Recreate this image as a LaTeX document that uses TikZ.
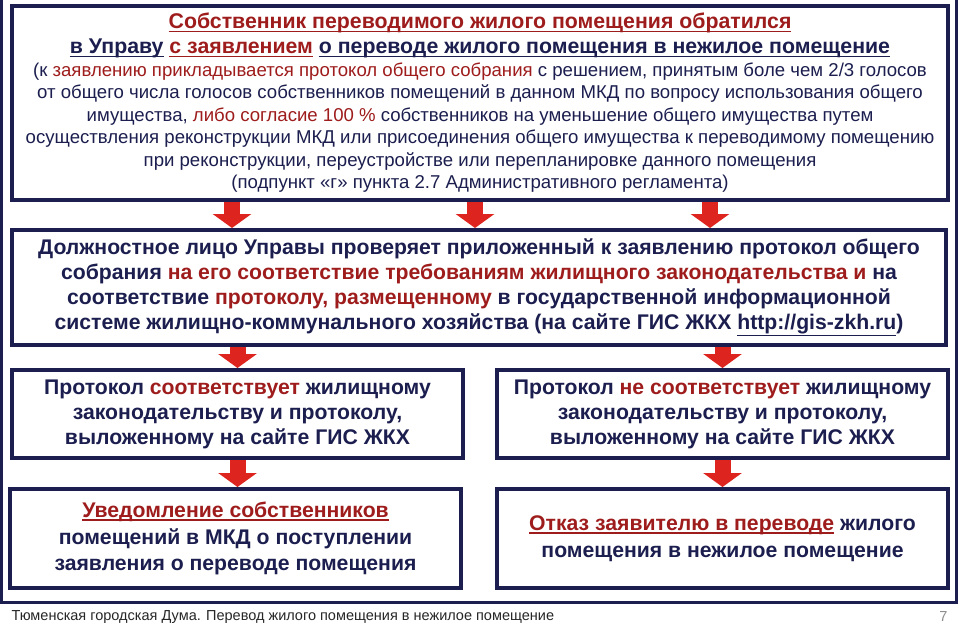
\documentclass[tikz,border=0pt]{standalone}
\usepackage{fontspec}
\setmainfont{Liberation Sans}
\usetikzlibrary{arrows.meta, calc}
\definecolor{navy}{RGB}{27,30,78}
\definecolor{darkred}{RGB}{158,28,28}
\definecolor{arrowred}{RGB}{222,36,30}
\newcommand{\rd}[1]{\textcolor{darkred}{#1}}
\newcommand{\undl}[1]{\leavevmode\setbox0\hbox{#1}\rlap{\rule[-3.5pt]{\wd0}{1.6pt}}\box0\relax}

\begin{document}
\begin{tikzpicture}[x=1pt,y=-1pt,
    box/.style={draw=navy, line width=4pt, fill=white, text=navy, align=center, inner sep=0pt},
    bigtext/.style={font=\fontsize{21.2}{25}\selectfont\bfseries},
    downarr/.style={draw=arrowred, line width=16pt, -{Triangle[width=38pt,length=14pt]}}]
  \useasboundingbox (0,0) rectangle (960,630);
  \draw [navy, line width=3pt] (1.5,-5) -- (1.5,602.5) -- (956.5,602.5) -- (956.5,-5); % slide frame

  \node [box, minimum width=936pt, minimum height=194pt, font=\fontsize{18.6}{22.5}\selectfont] (top) at (480,103)
    {{\fontsize{21.3}{25}\selectfont\bfseries\textcolor{darkred}{\undl{Собственник переводимого жилого помещения обратился}}}\\[2.5pt]
     {\fontsize{21.3}{25}\selectfont\bfseries\undl{в Управу} \textcolor{darkred}{\undl{с заявлением}} \undl{о переводе жилого помещения в нежилое помещение}}\\
     (к \rd{заявлению прикладывается протокол общего собрания} с решением, принятым боле чем 2/3 голосов\\
     от общего числа голосов собственников помещений в данном МКД по вопросу использования общего\\
     имущества, \rd{либо согласие 100 \%} собственников на уменьшение общего имущества путем\\
     осуществления реконструкции МКД или присоединения общего имущества к переводимому помещению\\
     при реконструкции, переустройстве или перепланировке данного помещения\\
     (подпункт «г» пункта 2.7 Административного регламента)}; % applicant

  \node [box, bigtext, minimum width=934pt, minimum height=115pt] (check) at (479,287.5)
    {Должностное лицо Управы проверяет приложенный к заявлению протокол общего\\
     собрания \rd{на его соответствие требованиям жилищного законодательства и} на\\
     соответствие \rd{протоколу, размещенному} в государственной информационной\\
     системе жилищно-коммунального хозяйства (на сайте ГИС ЖКХ \underline{http://gis-zkh.ru})}; % check

  \node [box, bigtext, minimum width=451pt, minimum height=88pt] (ok) at (237.5,414)
    {Протокол \rd{соответствует} жилищному\\ законодательству и протоколу,\\ выложенному на сайте ГИС ЖКХ};
  \node [box, bigtext, minimum width=451pt, minimum height=88pt] (no) at (722.5,414)
    {Протокол \rd{не соответствует} жилищному\\ законодательству и протоколу,\\ выложенному на сайте ГИС ЖКХ};

  \node [box, bigtext, minimum width=451pt, minimum height=99pt] (notice) at (235.5,538.5)
    {\textcolor{darkred}{\undl{Уведомление собственников}}\\[1.5pt] помещений в МКД о поступлении\\[1.5pt] заявления о переводе помещения};
  \node [box, bigtext, minimum width=451pt, minimum height=99pt] (refuse) at (722.5,538.5)
    {\textcolor{darkred}{\undl{Отказ заявителю в переводе}} жилого\\[1.5pt] помещения в нежилое помещение};

  % red arrows
  \draw [downarr] ([xshift=-248pt]top.south) -- ([xshift=-248pt]top.south |- check.north);
  \draw [downarr] ([xshift=-5pt]top.south) -- ([xshift=-5pt]top.south |- check.north);
  \draw [downarr] ([xshift=230pt]top.south) -- ([xshift=230pt]top.south |- check.north);

  \draw [downarr] (check.south -| ok) -- (ok.north);
  \draw [downarr] (check.south -| no) -- (no.north);

  \draw [downarr] (ok.south) -- (ok.south |- notice.north);
  \draw [downarr] (no.south) -- (no.south |- refuse.north);

  \node [anchor=base west, font=\fontsize{14.5}{16}\selectfont, text=black!85] (foot) at (8,620)
    {Тюменская городская Дума. Перевод жилого помещения в нежилое помещение};
  \node [anchor=base east, font=\fontsize{14.5}{16}\selectfont, text=black!45] (page) at (951,621) {7};
\end{tikzpicture}
\end{document}
